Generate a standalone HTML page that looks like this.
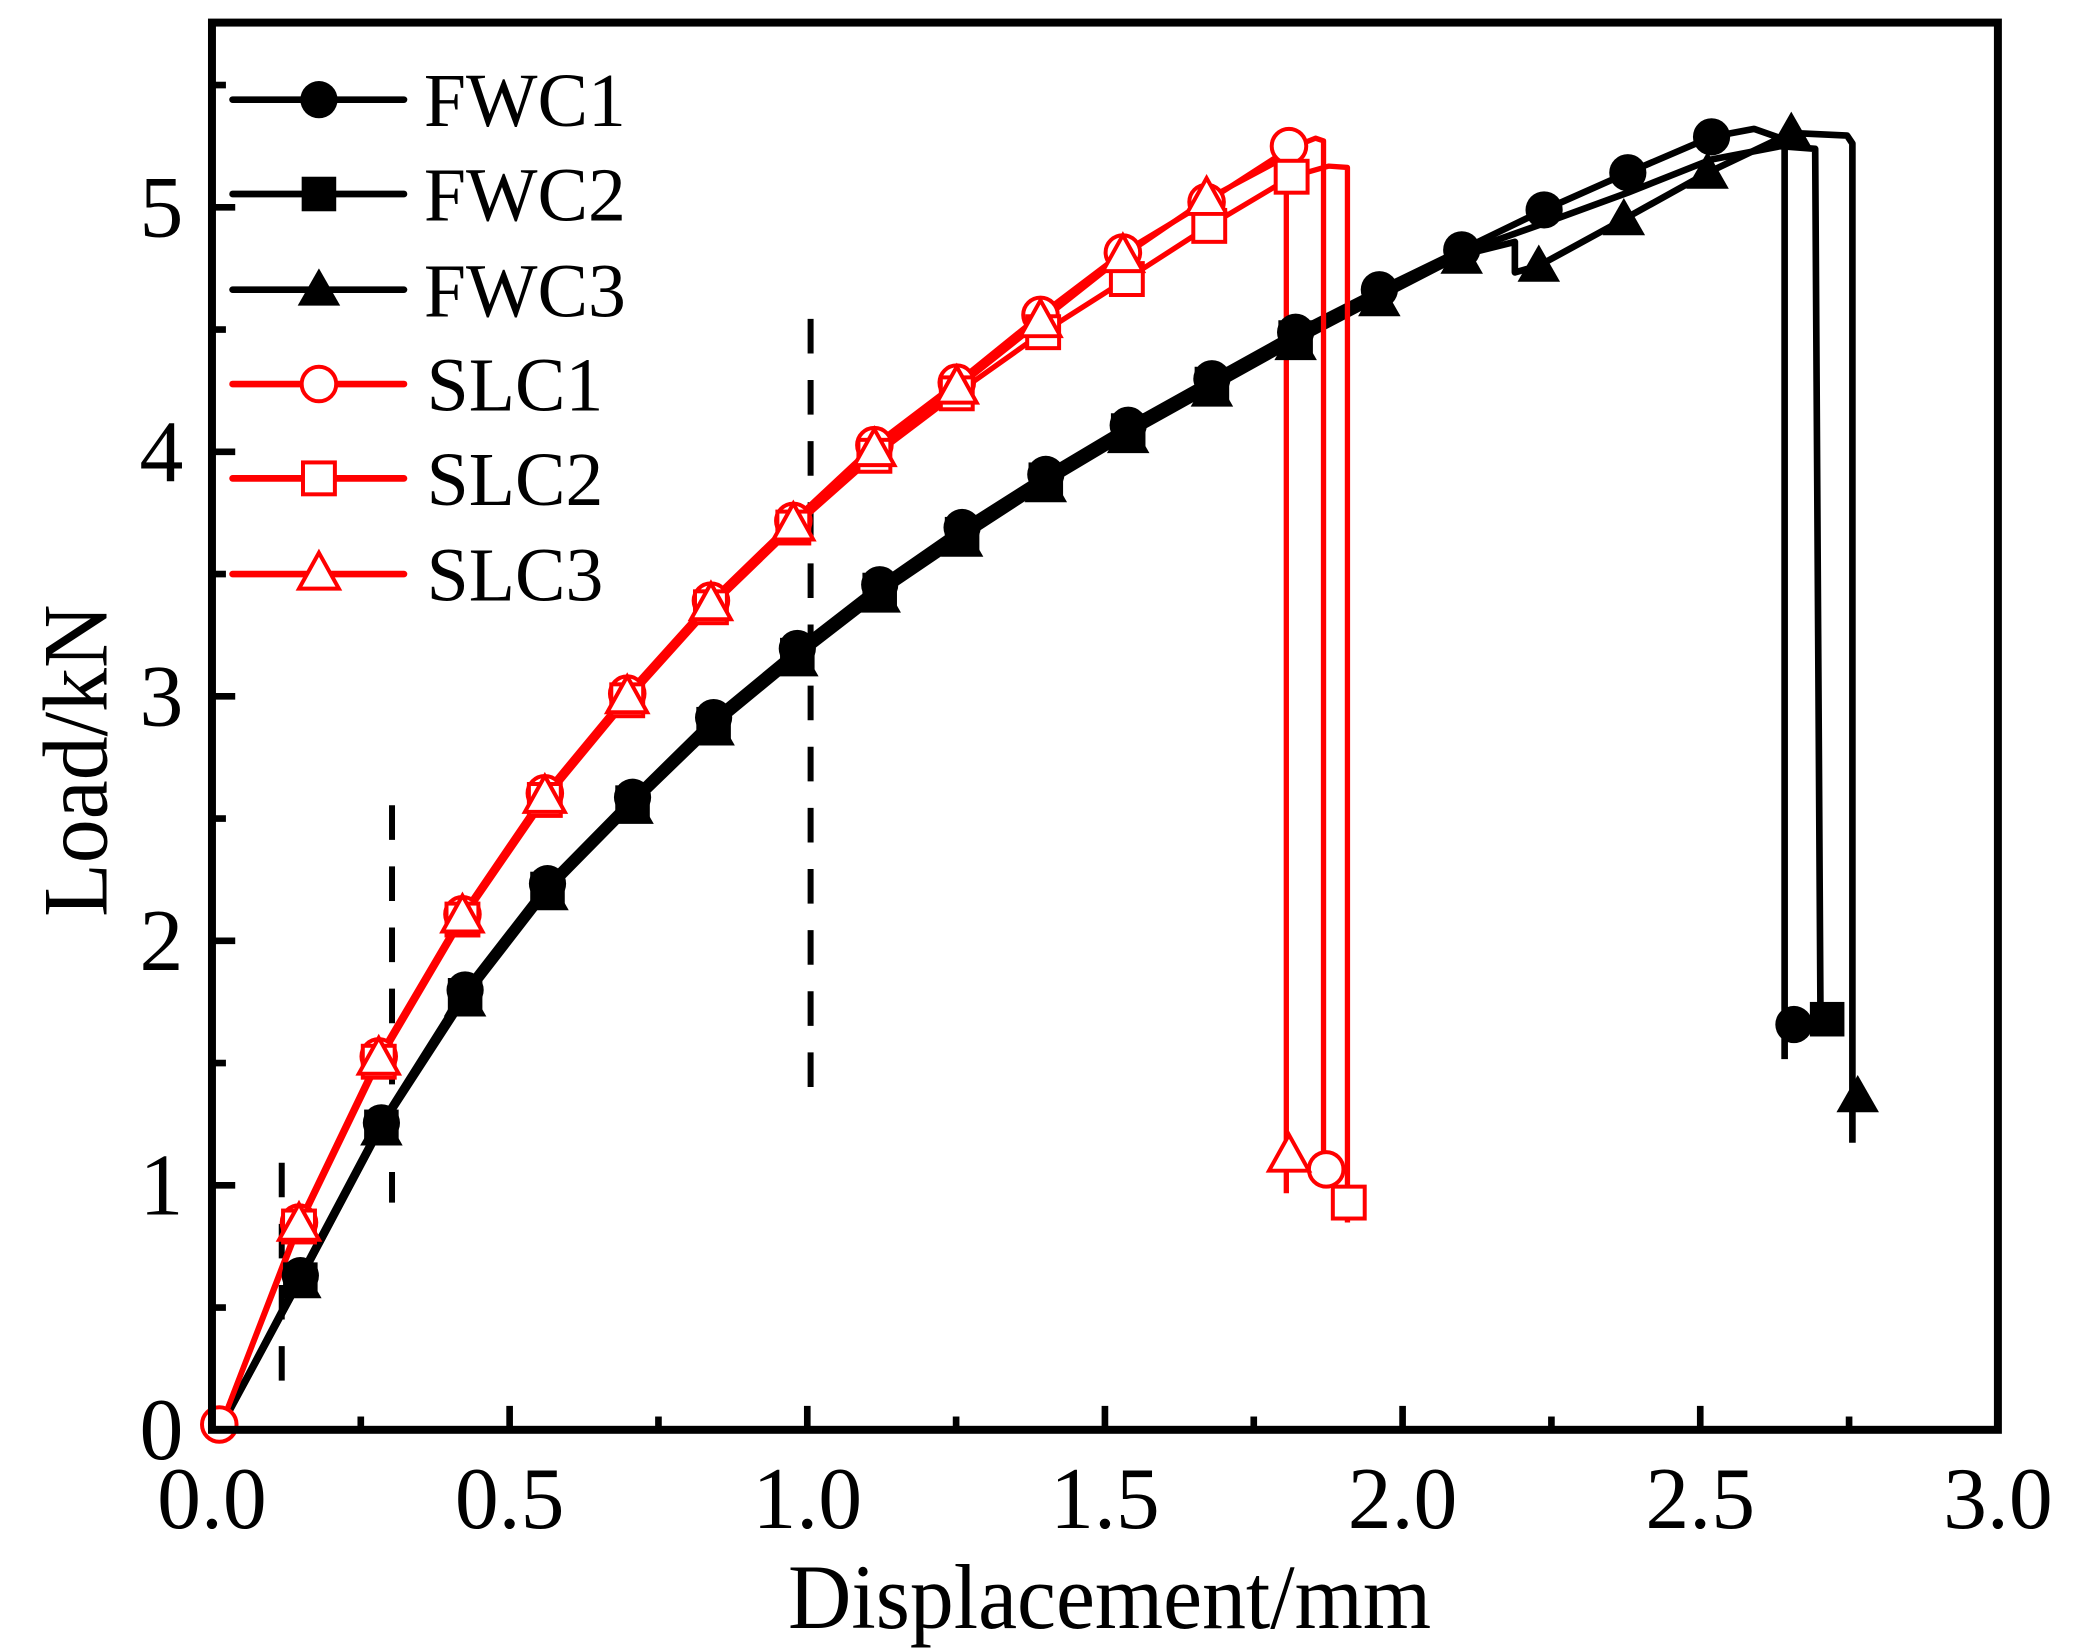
<!DOCTYPE html>
<html><head><meta charset="utf-8"><style>html,body{margin:0;padding:0;background:#fff}svg{display:block}</style></head>
<body>
<svg width="2073" height="1648" viewBox="0 0 1560 1240.2" xmlns="http://www.w3.org/2000/svg" font-family="Liberation Serif, serif">
<defs>
<circle id="cf" r="14" fill="#000"/>
<rect id="sf" x="-13" y="-13" width="26" height="26" fill="#000"/>
<path id="tf" d="M0,-16 L16,12 L-16,12 Z" fill="#000"/>
<circle id="co" r="13" fill="#fff" stroke="#f00" stroke-width="3"/>
<rect id="so" x="-12" y="-12" width="24" height="24" fill="#fff" stroke="#f00" stroke-width="3"/>
<path id="to" d="M0,-16 L15,11 L-15,11 Z" fill="#fff" stroke="#f00" stroke-width="3"/>
</defs>
<g stroke="#000" stroke-width="4.5" stroke-dasharray="26,20" fill="none">
<line x1="212" y1="875" x2="212" y2="1052"/>
<line x1="295" y1="606" x2="295" y2="905"/>
<line x1="610" y1="240" x2="610" y2="826"/>
</g>
<g fill="none" stroke="#000" stroke-width="5" stroke-linejoin="round">
<path d="M165,1076 L226,960 L287,845 L350,745 L412,665 L476,600 L537,540 L600,488 L662,440 L724,397 L787,357 L849,320 L912,285 L975,250 L1038,218 L1100,188 L1162,158 L1225,130 L1288,103 L1320,97 L1340,104 L1343,104 L1343,797"/>
<path d="M165,1076 L226,963 L287,848 L350,749 L412,669 L476,604 L537,545 L600,493 L662,444 L724,402 L787,361 L849,324 L912,289 L975,254 L1038,222 L1100,190 L1162,168 L1225,145 L1288,120 L1340,110 L1366,112 L1370,768"/>
<path d="M165,1076 L226,963 L287,848 L350,751 L412,671 L476,606 L537,547 L600,495 L662,447 L724,405 L787,364 L849,327 L912,292 L975,257 L1038,224 L1100,192 L1140,182 L1140,205 L1158,200 L1222,165 L1285,130 L1348,100 L1390,102 L1394,108 L1394,860"/>
</g>
<g fill="none" stroke="#f00" stroke-width="4" stroke-linejoin="round">
<path d="M165,1076 L225,920 L285,795 L348,688 L410,597 L472,522 L535,452 L597,392 L658,335 L720,288 L783,237 L845,190 L908,152 L970,112 L990,104 L996,106 L996,880"/>
<path d="M165,1076 L225,923 L285,799 L348,692 L410,602 L472,527 L535,457 L597,397 L658,343 L720,296 L785,250 L848,210 L910,170 L972,133 L1000,125 L1014,126 L1014,920"/>
<path d="M165,1076 L225,922 L285,797 L348,690 L410,600 L472,525 L535,455 L597,395 L658,339 L720,292 L783,242 L845,193 L908,150 L968,118 L968,898"/>
</g>
<g>
<use href="#cf" x="226" y="960"/><use href="#cf" x="287" y="845"/><use href="#cf" x="350" y="745"/><use href="#cf" x="412" y="665"/><use href="#cf" x="476" y="600"/><use href="#cf" x="537" y="540"/><use href="#cf" x="600" y="488"/><use href="#cf" x="662" y="440"/><use href="#cf" x="724" y="397"/><use href="#cf" x="787" y="357"/><use href="#cf" x="849" y="320"/><use href="#cf" x="912" y="285"/><use href="#cf" x="975" y="250"/><use href="#cf" x="1038" y="218"/><use href="#cf" x="1100" y="188"/><use href="#cf" x="1162" y="158"/><use href="#cf" x="1225" y="130"/><use href="#cf" x="1288" y="103"/><use href="#cf" x="1350" y="771"/>
<use href="#sf" x="226" y="963"/><use href="#sf" x="287" y="848"/><use href="#sf" x="350" y="749"/><use href="#sf" x="412" y="669"/><use href="#sf" x="476" y="604"/><use href="#sf" x="537" y="545"/><use href="#sf" x="600" y="493"/><use href="#sf" x="662" y="444"/><use href="#sf" x="724" y="402"/><use href="#sf" x="787" y="361"/><use href="#sf" x="849" y="324"/><use href="#sf" x="912" y="289"/><use href="#sf" x="975" y="254"/><use href="#sf" x="1375" y="767"/>
<use href="#tf" x="226" y="965"/><use href="#tf" x="287" y="850"/><use href="#tf" x="350" y="753"/><use href="#tf" x="412" y="673"/><use href="#tf" x="476" y="608"/><use href="#tf" x="537" y="549"/><use href="#tf" x="600" y="497"/><use href="#tf" x="662" y="449"/><use href="#tf" x="724" y="407"/><use href="#tf" x="787" y="366"/><use href="#tf" x="849" y="329"/><use href="#tf" x="912" y="294"/><use href="#tf" x="975" y="259"/><use href="#tf" x="1038" y="226"/><use href="#tf" x="1100" y="194"/><use href="#tf" x="1158" y="200"/><use href="#tf" x="1222" y="165"/><use href="#tf" x="1285" y="130"/><use href="#tf" x="1348" y="100"/><use href="#tf" x="1398" y="825"/>
<use href="#co" x="165" y="1072"/><use href="#co" x="225" y="920"/><use href="#co" x="285" y="795"/><use href="#co" x="348" y="688"/><use href="#co" x="410" y="597"/><use href="#co" x="472" y="522"/><use href="#co" x="535" y="452"/><use href="#co" x="597" y="392"/><use href="#co" x="658" y="335"/><use href="#co" x="720" y="288"/><use href="#co" x="783" y="237"/><use href="#co" x="845" y="190"/><use href="#co" x="908" y="152"/><use href="#co" x="970" y="110"/><use href="#co" x="998" y="880"/>
<use href="#so" x="225" y="923"/><use href="#so" x="285" y="799"/><use href="#so" x="348" y="692"/><use href="#so" x="410" y="602"/><use href="#so" x="472" y="527"/><use href="#so" x="535" y="457"/><use href="#so" x="597" y="397"/><use href="#so" x="658" y="343"/><use href="#so" x="720" y="296"/><use href="#so" x="785" y="250"/><use href="#so" x="848" y="210"/><use href="#so" x="910" y="170"/><use href="#so" x="972" y="133"/><use href="#so" x="1015" y="905"/>
<use href="#to" x="225" y="922"/><use href="#to" x="285" y="797"/><use href="#to" x="348" y="690"/><use href="#to" x="410" y="600"/><use href="#to" x="472" y="525"/><use href="#to" x="535" y="455"/><use href="#to" x="597" y="395"/><use href="#to" x="658" y="339"/><use href="#to" x="720" y="292"/><use href="#to" x="783" y="242"/><use href="#to" x="845" y="193"/><use href="#to" x="908" y="150"/><use href="#to" x="970" y="870"/>
</g>
<rect x="159.5" y="17" width="1344" height="1059" fill="none" stroke="#000" stroke-width="6"/>
<g stroke="#000" stroke-width="5">
<line x1="383.5" y1="1076" x2="383.5" y2="1058"/><line x1="607.5" y1="1076" x2="607.5" y2="1058"/><line x1="831.5" y1="1076" x2="831.5" y2="1058"/><line x1="1055.5" y1="1076" x2="1055.5" y2="1058"/><line x1="1279.5" y1="1076" x2="1279.5" y2="1058"/>
<line x1="271.5" y1="1076" x2="271.5" y2="1066"/><line x1="495.5" y1="1076" x2="495.5" y2="1066"/><line x1="719.5" y1="1076" x2="719.5" y2="1066"/><line x1="943.5" y1="1076" x2="943.5" y2="1066"/><line x1="1167.5" y1="1076" x2="1167.5" y2="1066"/><line x1="1391.5" y1="1076" x2="1391.5" y2="1066"/>
<line x1="159.5" y1="892" x2="177" y2="892"/><line x1="159.5" y1="708" x2="177" y2="708"/><line x1="159.5" y1="524" x2="177" y2="524"/><line x1="159.5" y1="340" x2="177" y2="340"/><line x1="159.5" y1="156" x2="177" y2="156"/>
<line x1="159.5" y1="984" x2="170" y2="984"/><line x1="159.5" y1="800" x2="170" y2="800"/><line x1="159.5" y1="616" x2="170" y2="616"/><line x1="159.5" y1="432" x2="170" y2="432"/><line x1="159.5" y1="248" x2="170" y2="248"/><line x1="159.5" y1="64" x2="170" y2="64"/>
</g>
<g font-size="66" fill="#000">
<g text-anchor="end">
<text x="138" y="1098">0</text><text x="138" y="914">1</text><text x="138" y="730">2</text><text x="138" y="546">3</text><text x="138" y="362">4</text><text x="138" y="178">5</text>
</g>
<g text-anchor="middle">
<text x="159.5" y="1150">0.0</text><text x="383.5" y="1150">0.5</text><text x="607.5" y="1150">1.0</text><text x="831.5" y="1150">1.5</text><text x="1055.5" y="1150">2.0</text><text x="1279.5" y="1150">2.5</text><text x="1503.5" y="1150">3.0</text>
</g>
<text x="593" y="1225" font-size="69" textLength="484" lengthAdjust="spacingAndGlyphs">Displacement/mm</text>
<text transform="translate(80,690) rotate(-90)" font-size="69" textLength="235" lengthAdjust="spacingAndGlyphs">Load/kN</text>
</g>
<g stroke-width="5" stroke-linecap="round">
<line x1="175" y1="75" x2="304" y2="75" stroke="#000"/><use href="#cf" x="240" y="75"/>
<line x1="175" y1="146" x2="304" y2="146" stroke="#000"/><use href="#sf" x="240" y="146"/>
<line x1="175" y1="218" x2="304" y2="218" stroke="#000"/><use href="#tf" x="240" y="218"/>
<line x1="175" y1="289" x2="304" y2="289" stroke="#f00"/><use href="#co" x="240" y="289"/>
<line x1="175" y1="360" x2="304" y2="360" stroke="#f00"/><use href="#so" x="240" y="360"/>
<line x1="175" y1="432" x2="304" y2="432" stroke="#f00"/><use href="#to" x="240" y="432"/>
</g>
<g font-size="57" fill="#000">
<text x="319" y="95">FWC1</text><text x="319" y="166">FWC2</text><text x="319" y="238">FWC3</text>
<text x="321" y="309">SLC1</text><text x="321" y="380">SLC2</text><text x="321" y="452">SLC3</text>
</g>
</svg>
</body></html>
